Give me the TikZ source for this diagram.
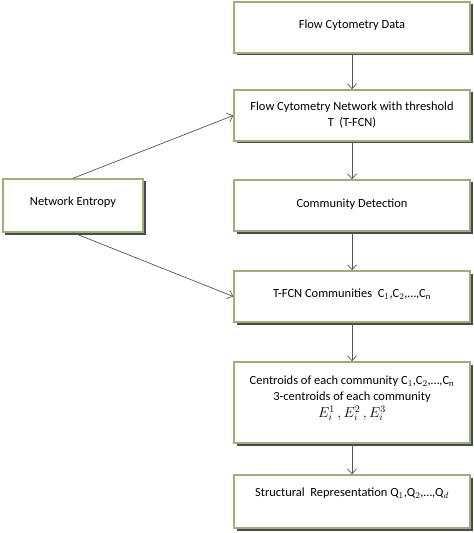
\documentclass[tikz,border=0pt]{standalone}
\usepackage{fontspec}
\setmainfont{Carlito}
\usetikzlibrary{arrows.meta,shadows}
\definecolor{boxborder}{HTML}{9DB07C}
\definecolor{shadowgray}{HTML}{4A4A4A}
\definecolor{linegray}{HTML}{555555}
\begin{document}
\begin{tikzpicture}[x=1bp,y=-1bp,
  box/.style={draw=boxborder, line width=1.4bp, fill=white, align=center,
    font=\fontsize{12.5}{16}\selectfont, inner sep=2bp,
    drop shadow={shadow xshift=2.5bp, shadow yshift=-2.5bp, fill=shadowgray, opacity=1}},
  conn/.style={draw=linegray, line width=0.7bp, -{Straight Barb[length=5bp,width=9bp]}}]
\useasboundingbox (0,0) rectangle (474,533);
\node[box, minimum width=236bp, minimum height=51bp] (b1) at (352,27.5) {Flow Cytometry Data\\[-9bp]};
\node[box, minimum width=236bp, minimum height=51bp] (b2) at (352,115.5) {Flow Cytometry Network with threshold\\T\ \ (T-FCN)};
\node[box, minimum width=236bp, minimum height=51bp] (b3) at (352,205.5) {Community Detection\\[-11bp]};
\node[box, minimum width=236bp, minimum height=51bp] (b4) at (352,296.5) {T-FCN Communities\ \ C$_1$,C$_2$,\dots,C$_\mathrm{n}$\\[-9bp]};
\node[box, minimum width=236bp, minimum height=81bp] (b5) at (352,402.5) {Centroids of each community C$_1$,C$_2$,\dots,C$_\mathrm{n}$\\3-centroids of each community\\[1bp]{\fontsize{14}{16}\selectfont$E_i^1\,,E_i^2\,,E_i^3$}\\[-4bp]};
\node[box, minimum width=236bp, minimum height=53bp] (b6) at (352,501.5) {Structural\ \ Representation Q$_1$,Q$_2$,\dots,Q$_d$\\[2bp]};
\node[box, minimum width=140bp, minimum height=53bp] (ne) at (73,205.5) {Network Entropy\\[-7bp]};
\draw[conn] (b1) -- (b2);
\draw[conn] (b2) -- (b3);
\draw[conn] (b3) -- (b4);
\draw[conn] (b4) -- (b5);
\draw[conn] (b5) -- (b6);
\draw[conn] (ne.north) -- (b2.west);
\draw[conn] (ne.south) -- (b4.west);
\end{tikzpicture}
\end{document}
